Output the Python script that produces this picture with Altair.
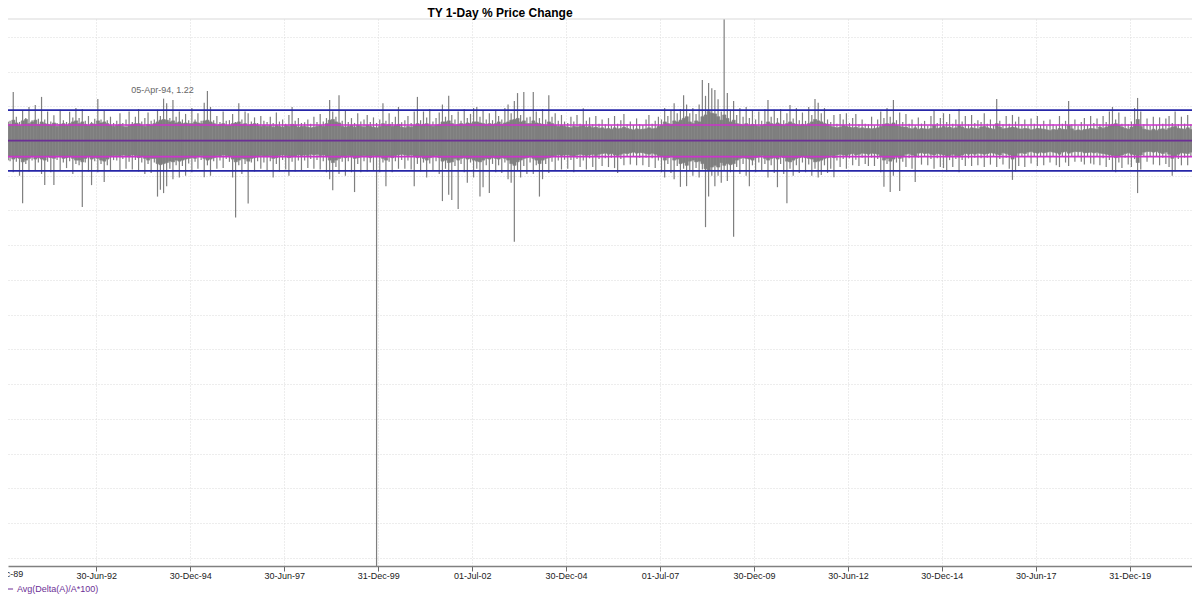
import altair as alt
import pandas as pd

TITLE = "TY 1-Day % Price Change"
SERIES_NAME = "Avg(Delta(A)/A*100)"
START_YEAR = 1990  # monthly buckets, Jan 1990 .. Aug 2021

# Largest daily % gain in each month
spike_up = [
    0.62, 0.95, 0.58, 1.41, 0.70, 0.55, 0.88, 0.66, 0.98, 0.60, 1.04, 0.64,  # 1990
    1.27, 0.62, 0.85, 0.56, 0.74, 0.52, 0.90, 0.60, 0.55, 0.84, 0.68, 0.95,  # 1991
    0.66, 0.92, 0.58, 0.72, 0.55, 0.64, 1.21, 0.62, 0.88, 0.60, 0.70, 0.52,  # 1992
    0.58, 0.80, 0.52, 0.62, 0.85, 0.55, 0.70, 0.92, 0.56, 0.66, 0.82, 0.58,  # 1993
    0.62, 0.90, 0.72, 1.22, 1.09, 0.66, 1.18, 0.70, 0.85, 0.62, 0.78, 0.60,  # 1994
    0.95, 0.62, 0.80, 0.58, 1.10, 1.44, 0.98, 0.60, 0.72, 0.55, 0.85, 0.58,  # 1995
    0.60, 0.78, 0.55, 1.09, 0.62, 0.85, 0.80, 0.56, 0.68, 0.52, 0.72, 0.58,  # 1996
    0.55, 0.70, 0.52, 0.82, 0.56, 0.62, 0.50, 0.75, 0.98, 0.58, 0.66, 0.52,  # 1997
    0.54, 0.62, 0.50, 0.70, 0.55, 0.78, 0.56, 0.66, 1.18, 0.85, 0.70, 1.32,  # 1998
    0.58, 0.88, 0.55, 0.66, 0.52, 0.80, 0.56, 0.62, 0.75, 0.55, 0.68, 0.52,  # 1999
    0.62, 1.09, 0.58, 0.80, 0.55, 0.70, 0.98, 0.54, 0.60, 0.72, 0.52, 0.85,  # 2000
    1.27, 0.60, 0.85, 0.68, 0.92, 0.56, 0.66, 0.82, 1.05, 0.70, 1.30, 0.75,  # 2001
    0.62, 0.85, 0.58, 0.92, 0.66, 0.78, 0.95, 0.98, 0.70, 0.88, 0.62, 0.80,  # 2002
    0.60, 0.90, 0.72, 0.62, 0.95, 1.05, 0.80, 1.15, 1.38, 0.75, 1.41, 0.68,  # 2003
    0.70, 1.41, 0.85, 0.66, 0.92, 0.62, 1.32, 0.70, 0.80, 0.58, 0.75, 0.56,  # 2004
    0.52, 0.70, 0.56, 0.75, 0.50, 0.94, 0.58, 0.68, 0.48, 0.72, 0.50, 0.62,  # 2005
    0.48, 0.66, 0.45, 0.72, 0.50, 0.60, 0.78, 0.48, 0.56, 0.46, 0.65, 0.48,  # 2006
    0.46, 0.62, 0.75, 0.50, 0.58, 0.70, 0.62, 0.95, 0.72, 0.88, 1.09, 0.80,  # 2007
    0.92, 1.32, 1.05, 0.80, 0.95, 0.78, 1.05, 1.76, 1.30, 1.67, 1.52, 1.47,  # 2008
    1.20, 0.85, 3.51, 1.38, 0.90, 1.15, 0.75, 0.95, 0.70, 0.98, 0.66, 0.88,  # 2009
    0.62, 0.85, 0.58, 0.92, 1.18, 0.70, 0.90, 0.66, 0.92, 0.60, 0.80, 1.04,  # 2010
    0.65, 0.95, 0.60, 0.82, 0.58, 0.98, 0.75, 1.21, 1.10, 0.80, 0.95, 0.62,  # 2011
    0.55, 0.75, 0.50, 0.78, 0.62, 0.80, 0.52, 0.66, 0.78, 0.48, 0.62, 0.50,  # 2012
    0.48, 0.70, 0.45, 0.62, 0.85, 0.66, 0.95, 0.70, 1.18, 0.60, 0.82, 0.55,  # 2013
    0.78, 0.50, 0.62, 0.46, 0.68, 0.50, 0.58, 0.45, 0.72, 0.89, 0.52, 0.66,  # 2014
    0.80, 0.55, 0.78, 0.50, 0.62, 0.92, 0.56, 0.72, 0.48, 0.75, 0.52, 0.60,  # 2015
    0.55, 0.80, 0.50, 0.62, 0.46, 1.21, 0.58, 0.48, 0.72, 0.50, 0.75, 0.56,  # 2016
    0.70, 0.48, 0.62, 0.45, 0.65, 0.50, 0.72, 0.46, 0.58, 0.44, 0.62, 0.48,  # 2017
    0.45, 0.72, 0.50, 0.58, 1.15, 0.48, 0.62, 0.44, 0.55, 0.66, 0.46, 0.72,  # 2018
    0.52, 0.65, 0.48, 0.72, 0.55, 0.85, 0.98, 0.62, 0.82, 0.50, 0.70, 0.48,  # 2019
    0.56, 0.95, 1.24, 0.85, 0.48, 0.65, 0.44, 0.70, 0.46, 0.68, 0.50, 0.65,  # 2020
    0.72, 0.52, 0.85, 0.48, 0.70, 0.50, 0.75, 0.48,                          # 2021
]

# Level the dense band of daily gains fills in each month
body_up = [
    0.50, 0.55, 0.48, 0.60, 0.52, 0.45, 0.58, 0.62, 0.50, 0.55, 0.60, 0.48,  # 1990
    0.55, 0.50, 0.48, 0.45, 0.52, 0.42, 0.48, 0.50, 0.45, 0.50, 0.55, 0.58,  # 1991
    0.50, 0.55, 0.48, 0.45, 0.50, 0.48, 0.58, 0.52, 0.55, 0.50, 0.45, 0.42,  # 1992
    0.45, 0.48, 0.42, 0.40, 0.45, 0.48, 0.50, 0.50, 0.45, 0.42, 0.48, 0.45,  # 1993
    0.50, 0.55, 0.60, 0.62, 0.60, 0.55, 0.58, 0.52, 0.55, 0.50, 0.52, 0.50,  # 1994
    0.50, 0.55, 0.52, 0.50, 0.58, 0.60, 0.55, 0.50, 0.45, 0.48, 0.50, 0.45,  # 1995
    0.45, 0.50, 0.52, 0.55, 0.48, 0.50, 0.45, 0.48, 0.50, 0.45, 0.42, 0.45,  # 1996
    0.42, 0.45, 0.40, 0.45, 0.42, 0.40, 0.45, 0.42, 0.48, 0.45, 0.40, 0.42,  # 1997
    0.42, 0.40, 0.38, 0.40, 0.42, 0.45, 0.42, 0.50, 0.60, 0.62, 0.55, 0.52,  # 1998
    0.42, 0.40, 0.42, 0.45, 0.40, 0.45, 0.42, 0.40, 0.45, 0.42, 0.40, 0.38,  # 1999
    0.42, 0.50, 0.45, 0.48, 0.42, 0.45, 0.48, 0.40, 0.38, 0.42, 0.40, 0.45,  # 2000
    0.50, 0.45, 0.48, 0.50, 0.45, 0.42, 0.45, 0.48, 0.55, 0.55, 0.58, 0.50,  # 2001
    0.45, 0.48, 0.50, 0.48, 0.52, 0.50, 0.55, 0.55, 0.52, 0.50, 0.48, 0.50,  # 2002
    0.48, 0.50, 0.55, 0.48, 0.52, 0.55, 0.60, 0.62, 0.65, 0.55, 0.58, 0.50,  # 2003
    0.50, 0.58, 0.52, 0.50, 0.48, 0.45, 0.55, 0.50, 0.45, 0.42, 0.45, 0.42,  # 2004
    0.40, 0.38, 0.42, 0.40, 0.42, 0.45, 0.40, 0.42, 0.38, 0.40, 0.36, 0.38,  # 2005
    0.35, 0.36, 0.34, 0.38, 0.35, 0.36, 0.40, 0.36, 0.34, 0.32, 0.35, 0.33,  # 2006
    0.34, 0.35, 0.38, 0.35, 0.36, 0.42, 0.45, 0.55, 0.50, 0.48, 0.58, 0.55,  # 2007
    0.60, 0.65, 0.70, 0.55, 0.50, 0.58, 0.55, 0.70, 0.75, 0.85, 0.80, 0.78,  # 2008
    0.70, 0.60, 0.75, 0.65, 0.55, 0.60, 0.50, 0.48, 0.45, 0.50, 0.45, 0.48,  # 2009
    0.45, 0.42, 0.45, 0.48, 0.55, 0.50, 0.48, 0.52, 0.48, 0.45, 0.50, 0.55,  # 2010
    0.50, 0.48, 0.45, 0.48, 0.45, 0.50, 0.55, 0.62, 0.58, 0.55, 0.50, 0.48,  # 2011
    0.42, 0.40, 0.38, 0.40, 0.45, 0.42, 0.40, 0.38, 0.40, 0.36, 0.38, 0.36,  # 2012
    0.36, 0.35, 0.36, 0.38, 0.42, 0.48, 0.50, 0.48, 0.52, 0.45, 0.42, 0.40,  # 2013
    0.40, 0.36, 0.35, 0.38, 0.34, 0.36, 0.35, 0.34, 0.36, 0.45, 0.36, 0.38,  # 2014
    0.42, 0.38, 0.40, 0.36, 0.38, 0.45, 0.40, 0.36, 0.35, 0.38, 0.36, 0.35,  # 2015
    0.40, 0.42, 0.38, 0.36, 0.34, 0.50, 0.40, 0.35, 0.36, 0.38, 0.40, 0.38,  # 2016
    0.35, 0.34, 0.36, 0.35, 0.32, 0.34, 0.36, 0.35, 0.34, 0.32, 0.30, 0.33,  # 2017
    0.32, 0.36, 0.34, 0.33, 0.45, 0.35, 0.30, 0.32, 0.30, 0.33, 0.34, 0.36,  # 2018
    0.35, 0.33, 0.40, 0.36, 0.40, 0.45, 0.48, 0.50, 0.45, 0.40, 0.36, 0.34,  # 2019
    0.40, 0.48, 0.62, 0.42, 0.34, 0.32, 0.30, 0.34, 0.30, 0.34, 0.35, 0.32,  # 2020
    0.36, 0.40, 0.42, 0.36, 0.35, 0.34, 0.38, 0.33,                          # 2021
]

# Level the dense band of daily losses fills in each month
body_down = [
    -0.50, -0.55, -0.45, -0.52, -0.48, -0.50, -0.60, -0.55, -0.50, -0.45, -0.52, -0.48,  # 1990
    -0.52, -0.55, -0.45, -0.48, -0.50, -0.42, -0.45, -0.50, -0.48, -0.45, -0.50, -0.55,  # 1991
    -0.55, -0.60, -0.50, -0.45, -0.52, -0.48, -0.50, -0.55, -0.58, -0.52, -0.45, -0.42,  # 1992
    -0.42, -0.45, -0.40, -0.42, -0.45, -0.40, -0.42, -0.48, -0.45, -0.50, -0.55, -0.50,  # 1993
    -0.50, -0.65, -0.68, -0.65, -0.62, -0.58, -0.60, -0.55, -0.58, -0.55, -0.52, -0.50,  # 1994
    -0.48, -0.50, -0.45, -0.42, -0.50, -0.55, -0.52, -0.48, -0.42, -0.45, -0.40, -0.42,  # 1995
    -0.45, -0.52, -0.60, -0.55, -0.50, -0.52, -0.58, -0.50, -0.48, -0.45, -0.42, -0.45,  # 1996
    -0.45, -0.42, -0.50, -0.48, -0.42, -0.40, -0.42, -0.48, -0.45, -0.45, -0.40, -0.42,  # 1997
    -0.40, -0.42, -0.38, -0.40, -0.38, -0.42, -0.40, -0.45, -0.55, -0.62, -0.55, -0.50,  # 1998
    -0.45, -0.48, -0.42, -0.45, -0.50, -0.48, -0.45, -0.42, -0.45, -0.48, -0.42, -0.45,  # 1999
    -0.45, -0.50, -0.55, -0.45, -0.48, -0.42, -0.40, -0.38, -0.40, -0.42, -0.40, -0.45,  # 2000
    -0.48, -0.45, -0.50, -0.55, -0.48, -0.45, -0.42, -0.48, -0.58, -0.55, -0.62, -0.60,  # 2001
    -0.50, -0.55, -0.50, -0.48, -0.52, -0.50, -0.55, -0.58, -0.60, -0.55, -0.50, -0.52,  # 2002
    -0.48, -0.50, -0.52, -0.48, -0.50, -0.55, -0.65, -0.70, -0.60, -0.55, -0.50, -0.48,  # 2003
    -0.45, -0.50, -0.55, -0.65, -0.55, -0.50, -0.48, -0.45, -0.42, -0.40, -0.42, -0.40,  # 2004
    -0.40, -0.42, -0.45, -0.40, -0.38, -0.40, -0.42, -0.40, -0.38, -0.42, -0.38, -0.36,  # 2005
    -0.35, -0.38, -0.36, -0.40, -0.42, -0.38, -0.35, -0.36, -0.34, -0.32, -0.35, -0.33,  # 2006
    -0.34, -0.36, -0.38, -0.35, -0.38, -0.42, -0.45, -0.55, -0.48, -0.45, -0.55, -0.52,  # 2007
    -0.65, -0.62, -0.70, -0.58, -0.55, -0.60, -0.58, -0.65, -0.80, -0.85, -0.75, -0.70,  # 2008
    -0.75, -0.62, -0.70, -0.65, -0.68, -0.65, -0.55, -0.50, -0.48, -0.50, -0.52, -0.55,  # 2009
    -0.48, -0.45, -0.42, -0.50, -0.55, -0.50, -0.48, -0.52, -0.45, -0.48, -0.58, -0.60,  # 2010
    -0.55, -0.50, -0.48, -0.45, -0.48, -0.50, -0.52, -0.60, -0.58, -0.55, -0.50, -0.48,  # 2011
    -0.42, -0.48, -0.40, -0.38, -0.40, -0.42, -0.38, -0.36, -0.40, -0.38, -0.35, -0.36,  # 2012
    -0.38, -0.35, -0.36, -0.38, -0.45, -0.55, -0.50, -0.58, -0.52, -0.45, -0.50, -0.45,  # 2013
    -0.38, -0.36, -0.40, -0.45, -0.35, -0.34, -0.36, -0.35, -0.38, -0.40, -0.36, -0.38,  # 2014
    -0.40, -0.45, -0.42, -0.38, -0.42, -0.45, -0.40, -0.36, -0.38, -0.36, -0.38, -0.35,  # 2015
    -0.36, -0.38, -0.36, -0.34, -0.35, -0.38, -0.40, -0.34, -0.36, -0.40, -0.52, -0.45,  # 2016
    -0.35, -0.34, -0.36, -0.32, -0.30, -0.33, -0.35, -0.32, -0.34, -0.32, -0.30, -0.32,  # 2017
    -0.34, -0.38, -0.32, -0.30, -0.35, -0.32, -0.30, -0.31, -0.30, -0.34, -0.33, -0.32,  # 2018
    -0.34, -0.32, -0.35, -0.36, -0.38, -0.40, -0.42, -0.48, -0.45, -0.40, -0.36, -0.34,  # 2019
    -0.38, -0.40, -0.62, -0.40, -0.32, -0.30, -0.30, -0.32, -0.30, -0.34, -0.36, -0.32,  # 2020
    -0.38, -0.50, -0.45, -0.38, -0.34, -0.35, -0.36, -0.32,                              # 2021
]

# Largest daily % loss in each month
spike_down = [
    -0.62, -1.27, -0.58, -0.90, -0.60, -1.00, -1.79, -0.66, -0.88, -0.56, -0.85, -0.62,  # 1990
    -0.95, -1.27, -0.60, -0.90, -1.27, -0.55, -0.85, -0.62, -0.78, -0.58, -0.95, -0.66,  # 1991
    -0.70, -1.90, -0.62, -0.88, -1.27, -0.58, -0.90, -0.66, -1.18, -0.70, -0.85, -0.55,  # 1992
    -0.56, -0.85, -0.52, -0.80, -0.60, -0.82, -0.55, -0.88, -0.62, -0.95, -0.66, -0.92,  # 1993
    -0.62, -1.60, -1.40, -1.50, -1.30, -0.80, -1.10, -0.70, -1.05, -0.72, -1.00, -0.65,  # 1994
    -0.90, -0.60, -0.80, -0.55, -1.04, -0.70, -1.00, -0.58, -0.80, -0.56, -0.78, -0.52,  # 1995
    -0.60, -1.05, -2.20, -0.70, -0.95, -0.66, -1.80, -0.62, -0.88, -0.58, -0.80, -0.62,  # 1996
    -0.85, -0.58, -1.05, -0.66, -0.88, -0.55, -0.82, -1.00, -0.60, -0.88, -0.56, -0.85,  # 1997
    -0.56, -0.78, -0.52, -0.80, -0.55, -0.82, -0.58, -0.90, -1.10, -1.42, -0.75, -0.95,  # 1998
    -0.60, -1.00, -0.58, -0.90, -1.47, -0.66, -0.90, -0.58, -0.88, -0.62, -0.85, -12.24,  # 1999
    -0.90, -0.62, -1.30, -0.60, -0.90, -0.58, -0.80, -0.55, -0.80, -0.56, -0.82, -1.30,  # 2000
    -0.66, -0.88, -0.62, -1.05, -0.65, -0.85, -0.58, -0.95, -1.73, -0.80, -1.55, -1.70,  # 2001
    -0.72, -1.96, -0.66, -0.90, -1.20, -0.62, -1.05, -0.80, -1.60, -1.33, -0.70, -1.50,  # 2002
    -0.66, -0.90, -0.70, -0.92, -0.62, -1.10, -1.20, -2.90, -0.85, -1.05, -0.72, -0.95,  # 2003
    -0.62, -0.95, -0.70, -1.60, -1.10, -0.66, -0.92, -0.60, -0.85, -0.56, -0.82, -0.54,  # 2004
    -0.80, -0.55, -0.90, -0.52, -0.75, -0.56, -0.82, -0.50, -0.75, -0.85, -0.52, -0.72,  # 2005
    -0.50, -0.75, -0.48, -0.78, -0.92, -0.52, -0.70, -0.46, -0.68, -0.45, -0.70, -0.48,  # 2006
    -0.70, -0.48, -0.75, -0.50, -0.78, -0.56, -0.90, -1.05, -0.66, -0.92, -1.10, -0.72,  # 2007
    -1.32, -0.80, -1.30, -0.85, -1.00, -0.78, -1.05, -0.82, -2.48, -1.60, -1.00, -1.30,  # 2008
    -1.00, -1.20, -0.85, -1.15, -0.90, -2.76, -0.75, -0.95, -0.66, -1.00, -1.30, -0.70,  # 2009
    -0.90, -0.62, -0.85, -0.66, -1.05, -0.70, -0.92, -1.33, -0.66, -0.95, -1.79, -0.80,  # 2010
    -1.00, -0.70, -0.92, -0.62, -0.90, -0.68, -1.00, -0.80, -1.05, -0.98, -0.70, -0.92,  # 2011
    -0.80, -1.04, -0.56, -0.75, -0.52, -0.80, -0.50, -0.70, -0.54, -0.72, -0.48, -0.66,  # 2012
    -0.72, -0.48, -0.72, -0.52, -0.90, -1.32, -0.66, -1.47, -1.00, -0.62, -1.44, -0.60,  # 2013
    -0.75, -0.50, -0.80, -1.18, -0.48, -0.68, -0.46, -0.70, -0.52, -0.80, -0.50, -0.75,  # 2014
    -0.78, -0.88, -0.55, -0.75, -0.52, -0.90, -0.55, -0.72, -0.50, -0.72, -0.48, -0.70,  # 2015
    -0.50, -0.75, -0.48, -0.68, -0.46, -0.75, -0.52, -0.68, -0.48, -0.80, -1.12, -0.88,  # 2016
    -0.72, -0.46, -0.75, -0.45, -0.65, -0.44, -0.72, -0.46, -0.70, -0.44, -0.62, -0.46,  # 2017
    -0.70, -0.75, -0.46, -0.62, -0.72, -0.44, -0.60, -0.45, -0.60, -0.68, -0.44, -0.65,  # 2018
    -0.68, -0.45, -0.70, -0.50, -0.75, -0.55, -0.85, -0.90, -0.62, -0.78, -0.48, -0.68,  # 2019
    -0.75, -0.52, -1.50, -0.82, -0.46, -0.60, -0.44, -0.68, -0.45, -0.70, -0.48, -0.66,  # 2020
    -0.75, -1.00, -0.88, -0.52, -0.70, -0.48, -0.70, -0.46,                              # 2021
]

# Reference lines: mean, +/-1 and +/-2 standard deviations
band2_values = [0.89, -0.86]
band1_values = [0.46, -0.45]
mean_value = [0.01]

# Tick dates on the time axis
tick_dates = [(1992, 6, 30), (1994, 12, 30), (1997, 6, 30), (1999, 12, 31),
              (2002, 7, 1), (2004, 12, 30), (2007, 7, 1), (2009, 12, 30),
              (2012, 6, 30), (2014, 12, 30), (2017, 6, 30), (2019, 12, 31)]
first_tick = ["1989-12-29"]
first_tick_label = ["29-Dec-89"]

# Point label
note_date = ["1994-04-05"]
note_value = [1.22]
note_text = ["05-Apr-94, 1.22"]

FONT = "Liberation Sans"
GRAY = "#7f7f7f"
BLUE = "#2626a8"
MAGENTA = "#cc33cc"
PURPLE = "#6c2f96"
GRID = "#dadada"
W, H = 1184, 547

n = len(spike_up)
starts = pd.date_range(f"{START_YEAR}-01-01", periods=n + 1, freq="MS")
df = pd.DataFrame({
    "m0": starts[:-1],
    "m1": starts[1:],
    "mid": starts[:-1] + pd.Timedelta(days=14),
    "spike_up": spike_up,
    "body_up": body_up,
    "body_down": body_down,
    "spike_down": spike_down,
})

x_scale = alt.Scale(domain=[alt.DateTime(year=1990, month=2, date=23),
                            alt.DateTime(year=2021, month=8, date=26)])
y_scale = alt.Scale(domain=[-12.237, 3.513], nice=False, zero=False)

x_axis = alt.Axis(
    values=[alt.DateTime(year=y, month=m, date=d) for (y, m, d) in tick_dates],
    format="%d-%b-%y", title=None, labelFont=FONT, labelFontSize=9,
    labelColor="#222222", labelPadding=0, labelFlush=False, labelOverlap=False,
    tickSize=5, tickColor="#666666", domainColor="#808080", domainWidth=1.5,
    grid=True, gridColor=GRID, gridDash=[1, 2],
)
y_axis = alt.Axis(
    values=list(range(-12, 4)), labels=False, ticks=False, domain=False,
    title=None, grid=True, gridColor=GRID, gridDash=[1, 2],
)

base = alt.Chart(df)

body_hi = base.mark_rect(color=GRAY, stroke=GRAY, strokeWidth=0.6, clip=True).encode(
    x=alt.X("m0:T", scale=x_scale, axis=x_axis), x2="m1:T",
    y=alt.Y("body_up:Q", scale=y_scale, axis=y_axis), y2=alt.datum(0))
body_lo = base.mark_rect(color=GRAY, stroke=GRAY, strokeWidth=0.6, clip=True).encode(
    x=alt.X("m0:T", scale=x_scale, axis=x_axis), x2="m1:T",
    y=alt.Y("body_down:Q", scale=y_scale, axis=y_axis), y2=alt.datum(0))
spk_hi = base.mark_rule(color=GRAY, strokeWidth=1.2, clip=True).encode(
    x=alt.X("mid:T", scale=x_scale, axis=x_axis),
    y=alt.Y("spike_up:Q", scale=y_scale, axis=y_axis), y2=alt.datum(0))
spk_lo = base.mark_rule(color=GRAY, strokeWidth=1.2, clip=True).encode(
    x=alt.X("mid:T", scale=x_scale, axis=x_axis),
    y=alt.Y("spike_down:Q", scale=y_scale, axis=y_axis), y2=alt.datum(0))

band2 = alt.Chart(pd.DataFrame({"v": band2_values})).mark_rule(
    color=BLUE, strokeWidth=1.6).encode(y=alt.Y("v:Q", scale=y_scale, axis=y_axis))
band1 = alt.Chart(pd.DataFrame({"v": band1_values})).mark_rule(
    color=MAGENTA, strokeWidth=1.6).encode(y=alt.Y("v:Q", scale=y_scale, axis=y_axis))
mean_line = alt.Chart(pd.DataFrame({"v": mean_value, "name": [SERIES_NAME]})).mark_rule(
    strokeWidth=1.6).encode(
    y=alt.Y("v:Q", scale=y_scale, axis=y_axis),
    color=alt.Color("name:N", scale=alt.Scale(range=[PURPLE]),
                    legend=alt.Legend(orient="none", legendX=-10, legendY=562,
                                      title=None, symbolType="stroke",
                                      symbolStrokeWidth=1, symbolSize=200,
                                      labelFont=FONT, labelFontSize=9,
                                      labelColor=PURPLE, labelOffset=3,
                                      padding=0)))

# light frame line along the top of the plot area
top_border = alt.Chart(pd.DataFrame({"v": [0]})).mark_rule(
    color="#d9d9d9", strokeWidth=1).encode(
    x=alt.value(0), x2=alt.value(W), y=alt.value(0), y2=alt.value(0))

note = alt.Chart(pd.DataFrame({"d": note_date, "v": note_value, "t": note_text})).mark_text(
    font=FONT, fontSize=9, color="#666666", baseline="alphabetic", dy=-6).encode(
    x=alt.X("d:T", scale=x_scale, axis=x_axis),
    y=alt.Y("v:Q", scale=y_scale, axis=y_axis), text="t:N")

first_lbl = alt.Chart(pd.DataFrame({"d": first_tick, "t": first_tick_label})).mark_text(
    font=FONT, fontSize=9, color="#222222", baseline="middle").encode(
    x=alt.X("d:T", scale=x_scale, axis=x_axis), y=alt.value(555), text="t:N")

chart = alt.layer(
    body_hi, body_lo, spk_hi, spk_lo, band2, band1, mean_line, top_border, note, first_lbl
).properties(
    width=W, height=H,
    background="white",
    autosize=alt.AutoSizeParams(type="none"),
    padding={"left": 0, "right": 0, "top": 11, "bottom": 30},
    title=alt.TitleParams(TITLE, font=FONT, fontSize=12, fontWeight="bold",
                          anchor="middle", dx=-100, dy=3, offset=2, color="#000000"),
).configure_view(stroke=None)

chart.save("out.html", embed_options={"renderer": "svg", "actions": False})
